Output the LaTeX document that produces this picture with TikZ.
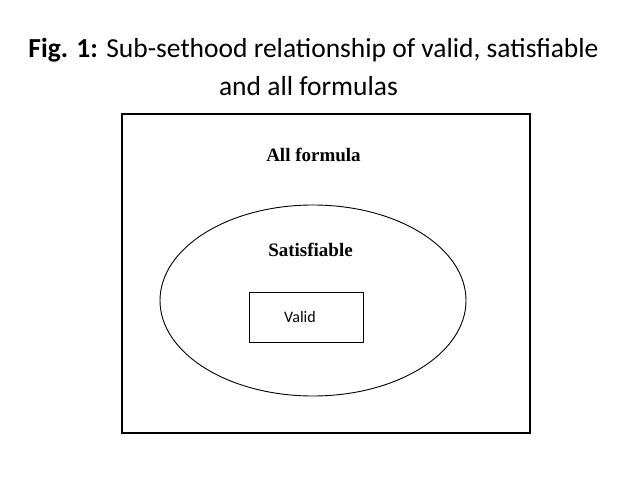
\documentclass[tikz,border=0pt]{standalone}
\usepackage{fontspec}
\setmainfont{Carlito}
\newfontfamily\serifb{Liberation Serif}
\usetikzlibrary{shapes.geometric}
\begin{document}
\begin{tikzpicture}[x=1pt,y=-1pt,
  title/.style={anchor=base, inner sep=0pt, font=\fontsize{27.5}{32}\selectfont},
  lab/.style={inner sep=0pt, font=\serifb\bfseries\fontsize{19}{21}\selectfont}]
\useasboundingbox (0,0) rectangle (638,478);
\fill[white] (0,0) rectangle (638,478);
\node[title] (t1) at (313.5,58) {\textbf{Fig. 1:} Sub-sethood relationship of valid, satisfiable};
\node[title] (t2) at (308.5,96) {and all formulas};
\node[draw, line width=1.2pt, minimum width=408pt, minimum height=319pt, inner sep=0pt] (all) at (326,273.5) {};
\node[ellipse, draw, line width=0.9pt, minimum width=306pt, minimum height=191pt, inner sep=0pt] (sat) at (313,300.5) {};
\node[draw, line width=1pt, minimum width=114pt, minimum height=50pt, inner sep=0pt] (val) at (306.3,318) {};
\node[lab] (allt) at (313.5,155) {All formula};
\node[lab] (satt) at (310.5,250) {Satisfiable};
\node[inner sep=0pt, font=\fontsize{16}{18}\selectfont] (valt) at (300,317) {Valid};
\end{tikzpicture}
\end{document}
